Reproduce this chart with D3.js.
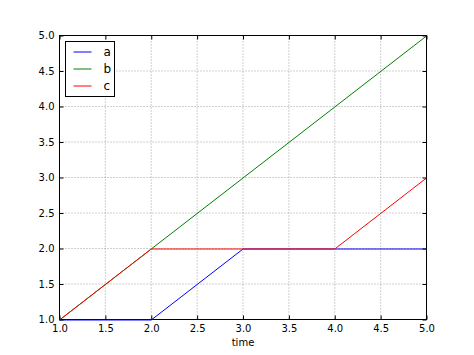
<!DOCTYPE html>
<html>
<head>
<meta charset="utf-8">
<script src="https://cdn.jsdelivr.net/npm/d3@7"></script>
<style>
  body { margin: 0; background: #fff; }
  text { font-family: "DejaVu Sans", sans-serif; }
</style>
</head>
<body>
<svg id="chart"></svg>
<script>
// data
const time = [1, 2, 3, 4, 5];
const seriesA = [1, 1, 2, 2, 2];
const seriesB = [1, 2, 3, 4, 5];
const seriesC = [1, 2, 2, 2, 3];
const seriesNames = ["a", "b", "c"];
const xTicks = [1.0, 1.5, 2.0, 2.5, 3.0, 3.5, 4.0, 4.5, 5.0];
const yTicks = [1.0, 1.5, 2.0, 2.5, 3.0, 3.5, 4.0, 4.5, 5.0];

const width = 474, height = 355;
const margin = { left: 59.5, right: 47.5, top: 35.5, bottom: 35.5 };
const colors = ["#0000ff", "#008000", "#ff0000"];

const svg = d3.select("#chart").attr("width", width).attr("height", height);

const x = d3.scaleLinear().domain([1, 5]).range([margin.left, width - margin.right]);
const y = d3.scaleLinear().domain([1, 5]).range([height - margin.bottom, margin.top]);

//grid
const grid = svg.append("g").attr("stroke", "#8c8c8c").attr("stroke-width", 0.8)
  .attr("stroke-dasharray", "1,2");
grid.selectAll(".gx").data(xTicks).join("line")
  .attr("x1", d => x(d)).attr("x2", d => x(d))
  .attr("y1", y(5)).attr("y2", y(1));
grid.selectAll(".gy").data(yTicks).join("line")
  .attr("y1", d => y(d)).attr("y2", d => y(d))
  .attr("x1", x(1)).attr("x2", x(5));

//frame
svg.append("rect")
  .attr("x", x(1)).attr("y", y(5))
  .attr("width", x(5) - x(1)).attr("height", y(1) - y(5))
  .attr("fill", "none").attr("stroke", "#000").attr("stroke-width", 1);

//lines (half pixel offset so they blend like the reference)
const series = [seriesA, seriesB, seriesC];
const line = d3.line().x((d, i) => x(time[i])).y(d => y(d));
svg.append("g").attr("transform", "translate(0,0.5)")
  .selectAll("path").data(series).join("path")
  .attr("d", line)
  .attr("fill", "none")
  .attr("stroke", (d, i) => colors[i])
  .attr("stroke-width", 1);

//axes, ticks pointing inward on all sides
const tickLen = 4;
svg.append("g").attr("transform", `translate(0,${y(1)})`)
  .call(d3.axisBottom(x).tickValues(xTicks).tickFormat(d3.format(".1f")).tickSizeInner(-tickLen).tickSizeOuter(0).tickPadding(5))
  .call(g => g.select(".domain").remove());
svg.append("g").attr("transform", `translate(0,${y(5)})`)
  .call(d3.axisTop(x).tickValues(xTicks).tickFormat("").tickSizeInner(-tickLen).tickSizeOuter(0))
  .call(g => g.select(".domain").remove());
svg.append("g").attr("transform", `translate(${x(1)},0)`)
  .call(d3.axisLeft(y).tickValues(yTicks).tickFormat(d3.format(".1f")).tickSizeInner(-tickLen).tickSizeOuter(0).tickPadding(5))
  .call(g => g.select(".domain").remove());
svg.append("g").attr("transform", `translate(${x(5)},0)`)
  .call(d3.axisRight(y).tickValues(yTicks).tickFormat("").tickSizeInner(-tickLen).tickSizeOuter(0))
  .call(g => g.select(".domain").remove());

svg.selectAll(".tick text").attr("font-size", 10).attr("fill", "#000")
  .style("font-family", "DejaVu Sans, sans-serif");
svg.selectAll(".tick line").attr("stroke", "#000");

svg.append("text")
  .attr("x", (x(1) + x(5)) / 2).attr("y", 346)
  .attr("text-anchor", "middle").attr("font-size", 10)
  .text("time");

//legend
const leg = svg.append("g").attr("transform", "translate(65.5,41.5)");
leg.append("rect").attr("width", 49).attr("height", 55)
  .attr("fill", "#fff").attr("stroke", "#000").attr("stroke-width", 1);
const rows = leg.selectAll("g.row").data(seriesNames).join("g")
  .attr("class", "row")
  .attr("transform", (d, i) => `translate(0,${10.5 + i * 17})`);
rows.append("line").attr("x1", 8).attr("x2", 26)
  .attr("stroke", (d, i) => colors[i]).attr("stroke-width", 1);
rows.append("text").attr("x", 38).attr("dy", "0.35em")
  .attr("font-size", 12).text(d => d);
</script>
</body>
</html>
